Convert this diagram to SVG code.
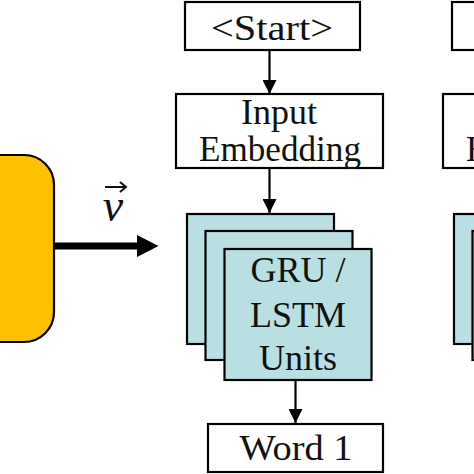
<svg xmlns="http://www.w3.org/2000/svg" width="474" height="474" viewBox="0 0 474 474">
<defs>
<style>
.box{fill:#ffffff;stroke:#000000;stroke-width:2.2}
.gru{fill:#b9dfe3;stroke:#000000;stroke-width:2.2}
.t{font-family:"Liberation Serif","Times New Roman",serif;font-size:36px;fill:#111111;text-anchor:middle}
.ln{stroke:#000000;stroke-width:2.2;fill:none}
</style>
<marker id="ah" markerWidth="14" markerHeight="14" refX="14" refY="7" orient="auto" markerUnits="userSpaceOnUse">
<path d="M0,0 L14,7 L0,14 Z" fill="#000000"/>
</marker>
</defs>
<rect width="474" height="474" fill="#ffffff"/>

<g id="encoder">
<rect x="-40" y="155" width="94" height="187" rx="30" ry="30" fill="#ffc000" stroke="#000000" stroke-width="2.2"/>
</g>

<g id="vector-label">
<text x="113" y="221" font-family="'Liberation Serif','DejaVu Serif',serif" font-style="italic" font-size="46" text-anchor="middle" fill="#111111">v</text>
<path d="M105,187 L126,187 M120,182 L126,187 L120,192" stroke="#111111" stroke-width="2" fill="none"/>
</g>

<g id="start1">
<rect class="box" x="185" y="2" width="175" height="48"/>
<text class="t" x="272" y="40" textLength="122" lengthAdjust="spacingAndGlyphs">&lt;Start&gt;</text>
</g>
<g id="embed1">
<rect class="box" x="176" y="94" width="207" height="74"/>
<text class="t" x="279" y="124">Input</text>
<text class="t" x="280" y="161" textLength="162" lengthAdjust="spacingAndGlyphs">Embedding</text>
</g>
<g id="gru1">
<rect class="gru" x="187" y="214" width="147" height="130"/>
<rect class="gru" x="205.5" y="231" width="147" height="129"/>
<rect class="gru" x="224.5" y="249" width="147" height="131"/>
<text class="t" x="298" y="282">GRU /</text>
<text class="t" x="298" y="327">LSTM</text>
<text class="t" x="298" y="370">Units</text>
</g>
<g id="word1">
<rect class="box" x="208" y="424" width="175" height="48"/>
<text class="t" x="296" y="460" textLength="113" lengthAdjust="spacingAndGlyphs">Word 1</text>
</g>

<g id="start2">
<rect class="box" x="452" y="2" width="175" height="48"/>
</g>
<g id="embed2">
<rect class="box" x="443" y="94" width="207" height="74"/>
<text class="t" x="547" y="161" textLength="162" lengthAdjust="spacingAndGlyphs">Embedding</text>
</g>
<g id="gru2">
<rect class="gru" x="454" y="214" width="147" height="130"/>
<rect class="gru" x="472.5" y="231" width="147" height="129"/>
</g>

<g id="connectors">
<line class="ln" x1="269.5" y1="50" x2="269.5" y2="94" marker-end="url(#ah)"/>
<line class="ln" x1="269.5" y1="168" x2="269.5" y2="213" marker-end="url(#ah)"/>
<line class="ln" x1="295.5" y1="380" x2="295.5" y2="423" marker-end="url(#ah)"/>
<line x1="54" y1="246" x2="140" y2="246" stroke="#000000" stroke-width="7"/>
<path d="M137,235 L158.5,246 L137,257 Z" fill="#000000"/>
</g>
</svg>
